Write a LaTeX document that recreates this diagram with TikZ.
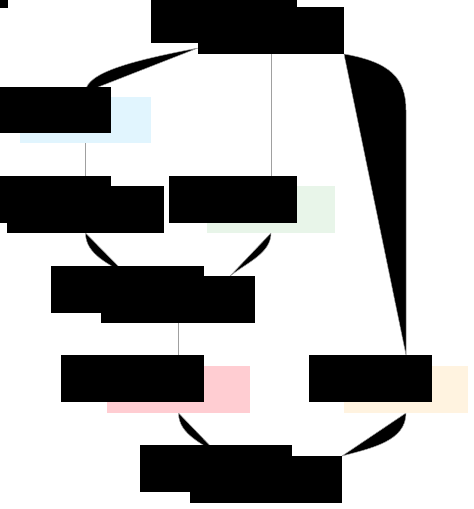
\documentclass[tikz,border=0pt]{standalone}
\usetikzlibrary{calc}
\definecolor{cblue}{HTML}{E1F5FE}
\definecolor{cgreen}{HTML}{E8F5E9}
\definecolor{cpink}{HTML}{FFCDD2}
\definecolor{ccream}{HTML}{FFF3E0}
\definecolor{lgray}{HTML}{A0A0A0}
\pgfdeclarelayer{bg}
\pgfsetlayers{bg,main}
\begin{document}
\begin{tikzpicture}[x=1pt,y=-1pt,
  box/.style={draw=none, inner sep=0pt, outer sep=0pt, anchor=north west, minimum height=47pt},
  blk/.style={box, fill=black},
  ln/.style={draw=lgray, line width=0.6pt},
  conn/.style={fill=black, draw=lgray, line width=0.5pt}]
\useasboundingbox (0,0) rectangle (474,509);
\clip (0,0) rectangle (474,509);
% coloured back rectangles
\node[box, fill=cblue, minimum width=131pt, minimum height=46pt] (b2) at (20,97) {};
\node[box, fill=cgreen, minimum width=128pt] (d2) at (207,186) {};
\node[box, fill=cpink, minimum width=143pt] (f2) at (107,366) {};
\node[box, fill=ccream, minimum width=124pt] (g2) at (344,366) {};
% black rectangles
\node[blk, minimum width=9pt, minimum height=9pt] (t) at (-1,-1) {};
\node[blk, minimum width=146pt] (a1) at (151,-4) {};
\node[blk, minimum width=146pt] (a2) at (198,7) {};
\node[blk, minimum width=131pt, minimum height=46pt] (b1) at (-20,87) {};
\node[blk, minimum width=156pt] (c1) at (-45,176) {};
\node[blk, minimum width=157pt] (c2) at (7,186) {};
\node[blk, minimum width=128pt] (d1) at (169,176) {};
\node[blk, minimum width=153pt] (e1) at (51,266) {};
\node[blk, minimum width=154pt] (e2) at (101,276) {};
\node[blk, minimum width=143pt] (f1) at (61,355) {};
\node[blk, minimum width=123pt] (g1) at (309,355) {};
\node[blk, minimum width=152pt] (h1) at (140,445) {};
\node[blk, minimum width=152pt] (h2) at (190,456) {};
% connectors behind the boxes
\begin{pgfonlayer}{bg}
\draw[ln] (a2.south) -- (a2.south |- d1.north);
\draw[ln] (b2.south) -- (b2.south |- c1.north);
\draw[ln] (e2.south) -- (e2.south |- f1.north);
\filldraw[conn] ($(a2.south west)+(0,-6)$) .. controls +(-62,12) and +(0,-20) .. ($(b2.north)+(0,-5)$) -- cycle;
\filldraw[conn] (a2.south east) .. controls +(46,8) and +(0,-32) .. (g2.north |- 0,110) -- (g2.north |- g1.north) -- cycle;
\filldraw[conn] (c2.south) .. controls +(0,22) and +(-18,-12) .. ($(e2.north west)+(27,0)$) -- cycle;
\filldraw[conn] (d2.south) .. controls +(0,20) and +(18,-14) .. ($(e2.north east)+(-25,0)$) -- cycle;
\filldraw[conn] (f2.south) .. controls +(0,22) and +(-16,-12) .. ($(h2.north west)+(30,0)$) -- cycle;
\filldraw[conn] (g2.south) .. controls +(0,28) and +(30,-8) .. (h2.north east) -- cycle;
\end{pgfonlayer}
\end{tikzpicture}
\end{document}
